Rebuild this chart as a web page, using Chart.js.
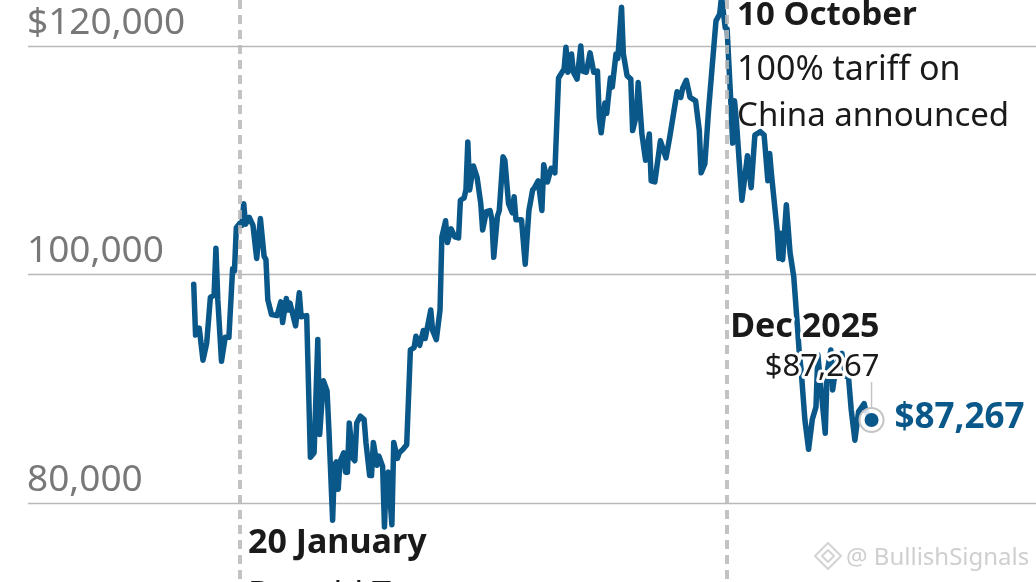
<!DOCTYPE html>
<html>
<head>
<meta charset="utf-8">
<script src="https://cdn.jsdelivr.net/npm/chart.js@4.4.1/dist/chart.umd.min.js"></script>
<style>
  html, body { margin: 0; padding: 0; background: #fff; }
  #wrap { width: 1036px; height: 582px; }
</style>
</head>
<body>
<div id="wrap"><canvas id="btcChart" width="1036" height="582"></canvas></div>
<script>
// days counted from 1 Jan 2025
const days = [
  -6, -5, -3, -1, 1, 3, 5, 6, 7, 9, 11, 13, 15, 16, 17, 19, 20, 21, 22, 24,
  26, 28, 30, 32, 33, 34, 36, 39, 41, 42, 44, 45, 46, 49, 51, 52, 55, 57, 59, 61,
  62, 64, 66, 67, 69, 70, 71, 72, 73, 75, 76, 77, 78, 80, 81, 82, 84, 86, 87, 89,
  90, 91, 93, 94, 96, 97, 98, 99, 101, 102, 104, 105, 107, 109, 111, 113, 114, 116, 118, 119,
  122, 123, 125, 127, 128, 130, 131, 133, 135, 137, 138, 140, 141, 142, 143, 145, 147, 149, 150, 152,
  154, 155, 156, 158, 159, 161, 162, 164, 166, 167, 168, 171, 173, 175, 177, 178, 180, 182, 183, 185,
  187, 189, 191, 194, 195, 196, 198, 199, 201, 203, 204, 206, 208, 210, 212, 213, 214, 216, 217, 219,
  220, 222, 223, 225, 226, 228, 230, 231, 233, 234, 236, 238, 240, 241, 243, 246, 249, 251, 255, 257,
  258, 260, 262, 265, 267, 268, 270, 272, 276, 278, 279, 281, 282, 284, 285, 286, 287, 290, 293, 295,
  297, 300, 302, 304, 305, 306, 309, 310, 311, 312, 314, 316, 318, 320, 321, 322, 324, 326, 328, 330,
  331, 333, 335, 336, 338, 339, 341, 344, 346, 347, 349, 351, 353, 356, 357, 360
];

const prices = [
  99150, 94700, 95300, 92500, 94000, 98000, 98200, 102300, 97800, 92400, 94500, 94500, 100500, 100300, 104100, 104500, 104300, 106200, 104400, 105000,
  104300, 101400, 104900, 101600, 101300, 97800, 96500, 96400, 97600, 95800, 97900, 96900, 97500, 95500, 98400, 96300, 96400, 84000, 84400, 94300,
  86000, 90700, 89800, 86400, 78500, 83300, 83600, 81200, 83600, 84400, 82700, 82700, 87000, 83900, 83700, 87000, 87600, 87300, 85300, 82400,
  82400, 85300, 83300, 84100, 83200, 77900, 82500, 82700, 78100, 85300, 83900, 84400, 84700, 85100, 93400, 93600, 94600, 93800, 95100, 94400,
  96900, 95100, 94300, 96900, 103300, 104700, 102800, 104000, 103300, 103200, 106500, 106700, 107400, 111600, 107400, 109500, 108500, 106200, 103900, 105500,
  105600, 104800, 101500, 105100, 105600, 110300, 110000, 106200, 105400, 106800, 104800, 104800, 100900, 105600, 107400, 107600, 108200, 105600, 109600, 108100,
  109300, 108900, 117200, 118000, 119900, 117700, 119300, 117700, 117100, 120000, 117800, 117700, 119400, 117700, 117800, 113700, 112400, 115000, 114100, 117200,
  116400, 119300, 118900, 123400, 119300, 117400, 117100, 112600, 113900, 116800, 112300, 110000, 112300, 108200, 108100, 111700, 110200, 112000, 116000, 115500,
  116300, 117000, 115500, 115200, 112600, 108900, 109700, 114400, 122200, 122800, 124300, 121600, 121500, 115200, 111500, 115200, 113500, 106500, 110400, 107600,
  112200, 112500, 112200, 108200, 110600, 108700, 103900, 101400, 103600, 101300, 106100, 101900, 99800, 95400, 93100, 91600, 87300, 84700, 87300, 88400,
  93000, 89500, 86100, 91400, 93400, 89900, 92200, 93100, 91100, 92100, 88200, 85500, 88000, 88700, 88000, 87267
];

const gridValues = [80000, 100000, 120000];
const gridLabels = ["80,000", "100,000", "$120,000"];

const eventDays = [19, 282];
const eventTitles = ["20 January", "10 October"];
const eventNotes = [["Donald Trump"], ["100% tariff on", "China announced"]];

const lastLabel = "Dec 2025";
const lastValueText = "$87,267";

const BLUE = "#0a5789";
const FONT = "'Noto Sans', 'Open Sans', sans-serif";

function haloText(ctx, txt, x, y, fill) {
  ctx.lineWidth = 6;
  ctx.strokeStyle = "#ffffff";
  ctx.lineJoin = "round";
  ctx.strokeText(txt, x, y);
  ctx.fillStyle = fill;
  ctx.fillText(txt, x, y);
}

const decorPlugin = {
  id: "decor",
  beforeDatasetsDraw(chart) {
    const ctx = chart.ctx;
    const y = chart.scales.y;
    ctx.save();
    ctx.strokeStyle = "#b9b9b9";
    ctx.lineWidth = 1.5;
    gridValues.forEach(v => {
      const py = Math.round(y.getPixelForValue(v)) + 0.5;
      ctx.beginPath();
      ctx.moveTo(28, py);
      ctx.lineTo(chart.width, py);
      ctx.stroke();
    });
    ctx.fillStyle = "#787878";
    ctx.font = "37px " + FONT;
    ctx.textBaseline = "alphabetic";
    gridValues.forEach((v, i) => {
      const py = y.getPixelForValue(v);
      ctx.fillText(gridLabels[i], 27, py - 12);
    });
    ctx.restore();
  },
  afterDatasetsDraw(chart) {
    const ctx = chart.ctx;
    const x = chart.scales.x;
    const y = chart.scales.y;
    ctx.save();

    // event lines
    ctx.strokeStyle = "rgba(185,185,185,0.85)";
    ctx.lineWidth = 4;
    ctx.setLineDash([9, 6]);
    eventDays.forEach(d => {
      const px = Math.round(x.getPixelForValue(d));
      ctx.beginPath();
      ctx.moveTo(px, 0);
      ctx.lineTo(px, chart.height);
      ctx.stroke();
    });
    ctx.setLineDash([]);

    // event text
    const ex0 = x.getPixelForValue(eventDays[0]);
    const ex1 = x.getPixelForValue(eventDays[1]);
    ctx.textBaseline = "alphabetic";
    ctx.fillStyle = "#1a1a1a";
    ctx.font = "bold 34px " + FONT;
    ctx.fillText(eventTitles[0], ex0 + 8, 553);
    ctx.font = "bold 33px " + FONT;
    ctx.fillText(eventTitles[1], ex1 + 10, 25);
    ctx.font = "34px " + FONT;
    ctx.fillText(eventNotes[0][0], ex0 + 8, 606);
    ctx.fillText(eventNotes[1][0], ex1 + 10, 80);
    ctx.font = "33px " + FONT;
    ctx.fillText(eventNotes[1][1], ex1 + 10, 126);

    // end marker
    const lx = x.getPixelForValue(days[days.length - 1]);
    const ly = y.getPixelForValue(prices[prices.length - 1]);
    ctx.strokeStyle = "#c4c4c4";
    ctx.lineWidth = 1.5;
    ctx.beginPath();
    ctx.moveTo(lx, ly - 38);
    ctx.lineTo(lx, ly - 13);
    ctx.stroke();
    ctx.beginPath();
    ctx.arc(lx, ly, 12, 0, Math.PI * 2);
    ctx.fillStyle = "rgba(255,255,255,0.85)";
    ctx.fill();
    ctx.lineWidth = 2;
    ctx.stroke();
    ctx.beginPath();
    ctx.arc(lx, ly, 7, 0, Math.PI * 2);
    ctx.fillStyle = BLUE;
    ctx.fill();

    // labels near last point
    ctx.textAlign = "right";
    ctx.font = "bold 34px " + FONT;
    haloText(ctx, lastLabel, lx + 8, 337, "#1a1a1a");
    ctx.font = "31px " + FONT;
    haloText(ctx, lastValueText, lx + 8, 376, "#1a1a1a");
    ctx.textAlign = "left";
    ctx.font = "bold 35px " + FONT;
    ctx.fillStyle = BLUE;
    ctx.fillText(lastValueText, lx + 23, 428);

    // watermark
    ctx.fillStyle = "#cfcfcf";
    ctx.font = "24px " + FONT;
    ctx.fillText("@ BullishSignals", 846, 565);
    ctx.strokeStyle = "#d4d4d4";
    ctx.lineWidth = 2;
    ctx.beginPath();
    ctx.moveTo(828, 543);
    ctx.lineTo(841, 556);
    ctx.lineTo(828, 569);
    ctx.lineTo(815, 556);
    ctx.closePath();
    ctx.stroke();
    ctx.beginPath();
    ctx.moveTo(828, 550);
    ctx.lineTo(834, 556);
    ctx.lineTo(828, 562);
    ctx.lineTo(822, 556);
    ctx.closePath();
    ctx.stroke();

    ctx.restore();
  }
};

const points = days.map((d, i) => ({ x: d, y: prices[i] }));

new Chart(document.getElementById("btcChart"), {
  type: "line",
  data: {
    datasets: [{
      data: points,
      borderColor: BLUE,
      borderWidth: 5.5,
      borderJoinStyle: "round",
      borderCapStyle: "round",
      pointRadius: 0,
      tension: 0,
      fill: false
    }]
  },
  options: {
    responsive: false,
    animation: false,
    layout: { padding: 0 },
    plugins: {
      legend: { display: false },
      tooltip: { enabled: false }
    },
    scales: {
      x: {
        type: "linear",
        display: false,
        min: -110.6,
        max: 448.8
      },
      y: {
        type: "linear",
        display: false,
        min: 73085,
        max: 124026
      }
    }
  },
  plugins: [decorPlugin]
});
</script>
</body>
</html>
